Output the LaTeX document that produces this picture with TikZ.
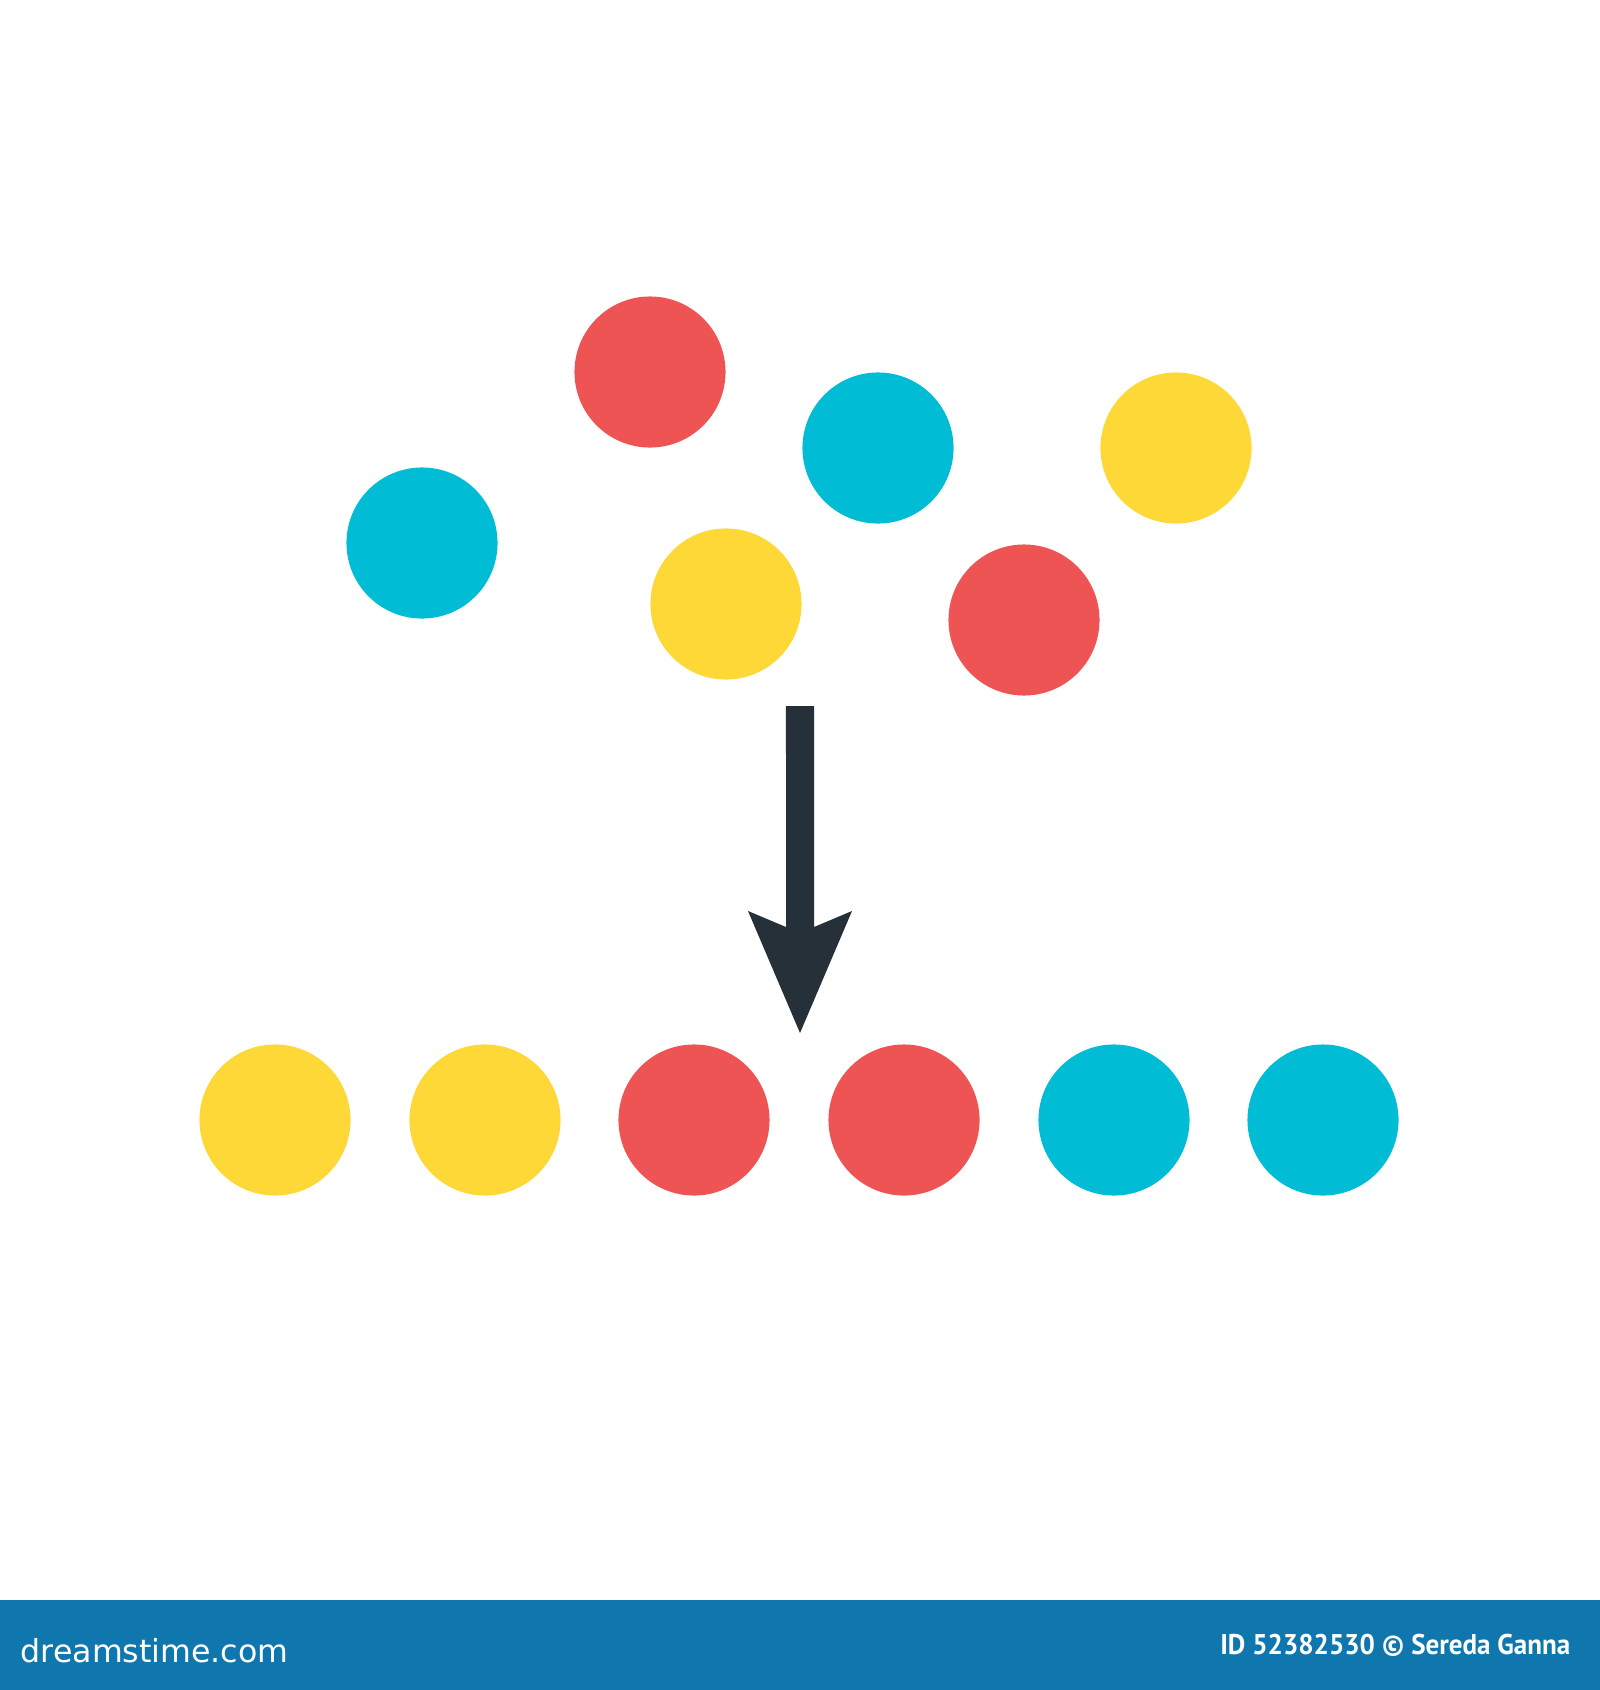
\documentclass[tikz,border=0pt]{standalone}
\usepackage{fontspec}
\setmainfont{DejaVu Sans}
\newfontfamily\idfont[FakeStretch=0.95]{PT Sans Bold}
\definecolor{ballred}{RGB}{238,84,83}
\definecolor{ballcyan}{RGB}{0,188,212}
\definecolor{ballyellow}{RGB}{254,216,54}
\definecolor{arrowdark}{RGB}{38,48,56}
\definecolor{barblue}{RGB}{16,119,174}
\tikzstyle{ball}=[circle, minimum size=1.51cm, inner sep=0pt]
\tikzstyle{redball}=[ball, fill=ballred]
\tikzstyle{cyanball}=[ball, fill=ballcyan]
\tikzstyle{yellowball}=[ball, fill=ballyellow]
\tikzstyle{bartext}=[text=white, inner sep=0pt]

\begin{document}
\begin{tikzpicture}[x=0.01cm, y=-0.01cm]
\useasboundingbox (0,0) rectangle (1600,1690);
% mixed up
\draw (650,372) node[redball] (R1) {};
\draw (878,448) node[cyanball] (C1) {};
\draw (1176,448) node[yellowball] (Y1) {};
\draw (422,543) node[cyanball] (C2) {};
\draw (726,604) node[yellowball] (Y2) {};
\draw (1024,620) node[redball] (R2) {};

% sorted
\draw (275,1120) node[yellowball] (S1) {};
\draw (485,1120) node[yellowball] (S2) {};
\draw (694,1120) node[redball] (S3) {};
\draw (904,1120) node[redball] (S4) {};
\draw (1114,1120) node[cyanball] (S5) {};
\draw (1323,1120) node[cyanball] (S6) {};

\coordinate (top) at (800,706);
\coordinate (tip) at (800,1033);
\fill[arrowdark] ([xshift=-0.14cm]top) -- ([xshift=0.14cm]top) -- (814,927) -- (852,911)
  -- (tip) -- (748,911) -- (786,927) -- cycle;

\fill[barblue] (0,1600) rectangle (1600,1690);
\draw (20,1651) node[bartext, anchor=west] (site) {\fontsize{9.0}{10}\selectfont dreamstime.com};
\draw (1571,1645) node[bartext, anchor=east] (credit) {\idfont\fontsize{8.1}{9}\selectfont ID 52382530 © Sereda Ganna};
\end{tikzpicture}
\end{document}
